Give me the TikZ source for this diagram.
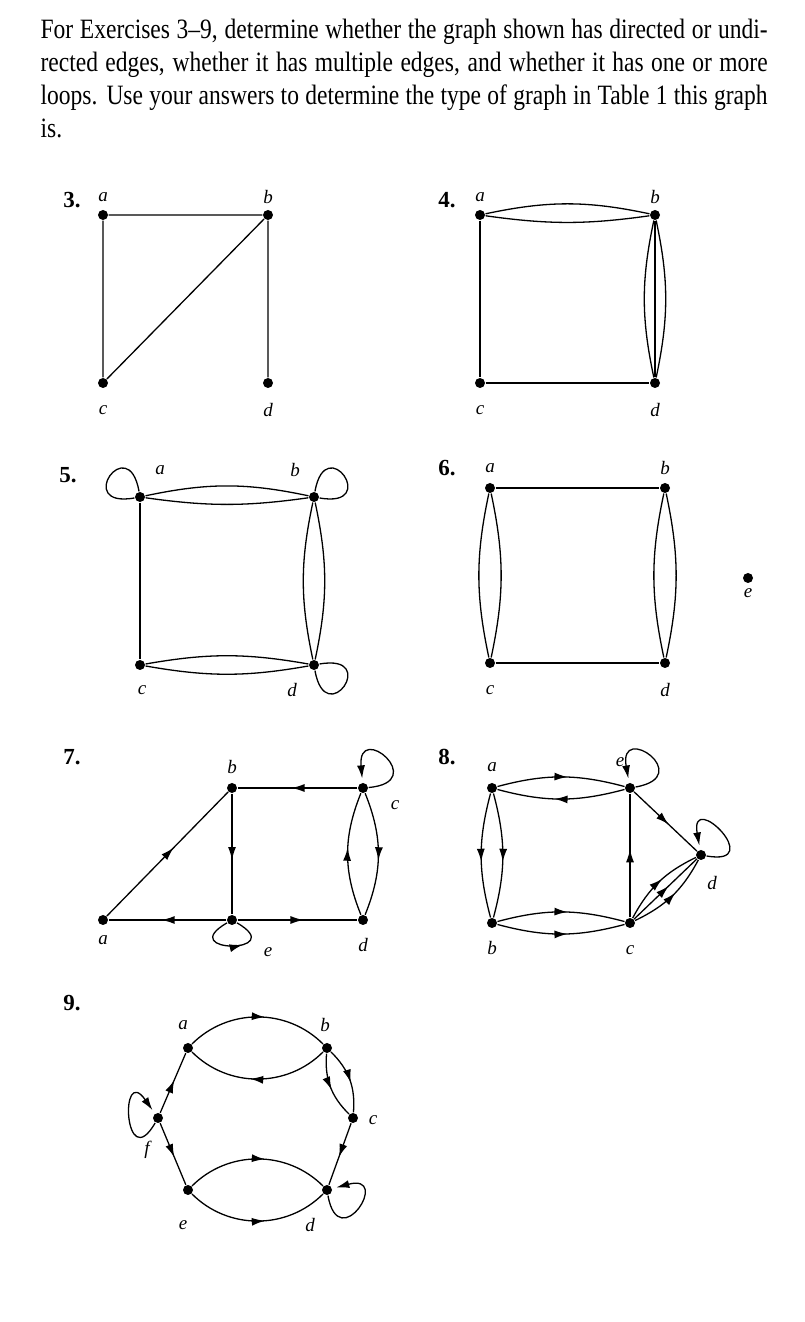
\documentclass[tikz,border=0pt]{standalone}
\usepackage{fontspec}
\setmainfont[FakeStretch=0.84]{Liberation Serif}
\newfontfamily\labfont{Liberation Serif}
\usetikzlibrary{arrows.meta,decorations.markings}
\tikzset{
  dot/.style={circle,fill,inner sep=0,minimum size=10pt},
  lab/.style={font=\labfont\fontsize{19}{20}\selectfont\itshape},
  num/.style={font=\labfont\fontsize{23}{24}\selectfont\bfseries},
  mid/.style={postaction={decorate,decoration={markings,mark=at position #1 with {\arrow{Latex[length=13pt,width=8pt]}}}}},
  mid/.default=0.55,
  lp/.style={distance=62pt},
  ltip/.style={-{Latex[length=13pt,width=8pt]},shorten >=4pt}
}
\begin{document}
\begin{tikzpicture}[x=1pt,y=1pt,line width=1.3pt]
\useasboundingbox (0,0) rectangle (804,1322);
\node[anchor=north west,text width=727pt,align=justify,inner sep=0,font=\fontsize{28}{33}\selectfont] (txt) at (40,1304)
{For Exercises 3--9, determine whether the graph shown has directed or undirected edges, whether it has multiple edges, and whether it has one or more loops. Use your answers to determine the type of graph in Table 1 this graph is.};
% Graph 3
\node[num] (n3) at (72,1122) {3.};
\node[dot] (a3) at (103,1107) {};
\node[dot] (b3) at (268,1107) {};
\node[dot] (c3) at (103,939) {};
\node[dot] (d3) at (268,939) {};
\node[lab] (la3) at (103,1125) {a};
\node[lab] (lb3) at (268,1125) {b};
\node[lab] (lc3) at (103,912) {c};
\node[lab] (ld3) at (268,912) {d};
\draw (a3)--(b3) (a3)--(c3) (b3)--(c3) (b3)--(d3);
% Graph 4
\node[num] (n4) at (447,1122) {4.};
\node[dot] (a4) at (480,1107) {};
\node[dot] (b4) at (655,1107) {};
\node[dot] (c4) at (480,939) {};
\node[dot] (d4) at (655,939) {};
\node[lab] (la4) at (480,1125) {a};
\node[lab] (lb4) at (655,1125) {b};
\node[lab] (lc4) at (480,912) {c};
\node[lab] (ld4) at (655,912) {d};
\draw (a4) to[bend left=12] (b4);
\draw (a4) to[bend right=8] (b4);
\draw (a4)--(c4) (c4)--(d4) (b4)--(d4);
\draw (b4) to[bend left=12] (d4);
\draw (b4) to[bend right=12] (d4);
% Graph 5
\node[num] (n5) at (68,847) {5.};
\node[dot] (a5) at (140,825) {};
\node[dot] (b5) at (314,825) {};
\node[dot] (c5) at (140,657) {};
\node[dot] (d5) at (314,657) {};
\node[lab] (la5) at (160,852) {a};
\node[lab] (lb5) at (295,852) {b};
\node[lab] (lc5) at (142,632) {c};
\node[lab] (ld5) at (292,632) {d};
\draw (a5) to[bend left=12] (b5);
\draw (a5) to[bend right=8] (b5);
\draw (c5) to[bend left=10] (d5);
\draw (c5) to[bend right=10] (d5);
\draw (b5) to[bend left=12] (d5);
\draw (b5) to[bend right=12] (d5);
\draw (a5)--(c5);
\draw (a5) to[out=190,in=100,lp] (a5);
\draw (b5) to[out=80,in=-10,lp] (b5);
\draw (d5) to[out=-80,in=10,lp] (d5);
% Graph 6
\node[num] (n6) at (447,854) {6.};
\node[dot] (a6) at (490,834) {};
\node[dot] (b6) at (665,834) {};
\node[dot] (c6) at (490,659) {};
\node[dot] (d6) at (665,659) {};
\node[dot] (e6) at (748,744) {};
\node[lab] (la6) at (490,854) {a};
\node[lab] (lb6) at (665,854) {b};
\node[lab] (lc6) at (490,632) {c};
\node[lab] (ld6) at (665,632) {d};
\node[lab] (le6) at (748,729) {e};
\draw (a6)--(b6) (c6)--(d6);
\draw (a6) to[bend left=12] (c6);
\draw (a6) to[bend right=12] (c6);
\draw (b6) to[bend left=12] (d6);
\draw (b6) to[bend right=12] (d6);
% Graph 7
\node[num] (n7) at (72,565) {7.};
\node[dot] (a7) at (103,402) {};
\node[dot] (b7) at (232,534) {};
\node[dot] (c7) at (363,534) {};
\node[dot] (d7) at (363,402) {};
\node[dot] (e7) at (232,402) {};
\node[lab] (la7) at (103,382) {a};
\node[lab] (lb7) at (232,555) {b};
\node[lab] (lc7) at (395,517) {c};
\node[lab] (ld7) at (363,377) {d};
\node[lab] (le7) at (268,370) {e};
\draw[mid] (a7)--(b7);
\draw[mid] (c7)--(b7);
\draw[mid] (b7)--(e7);
\draw[mid] (e7)--(a7);
\draw[mid] (e7)--(d7);
\draw[mid] (c7) to[bend left=22] (d7);
\draw[mid] (d7) to[bend left=22] (c7);
\draw[ltip] (c7) to[out=5,in=95,lp] (c7);
\draw[mid=0.62] (e7) to[out=-150,in=-30,lp] (e7);
% Graph 8
\node[num] (n8) at (447,565) {8.};
\node[dot] (a8) at (492,534) {};
\node[dot] (e8) at (630,534) {};
\node[dot] (d8) at (701,467) {};
\node[dot] (b8) at (492,399) {};
\node[dot] (c8) at (630,399) {};
\node[lab] (la8) at (492,555) {a};
\node[lab] (le8) at (620,560) {e};
\node[lab] (ld8) at (712,439) {d};
\node[lab] (lb8) at (492,374) {b};
\node[lab] (lc8) at (630,372) {c};
\draw[mid] (a8) to[bend left=15] (e8);
\draw[mid] (e8) to[bend left=15] (a8);
\draw[mid] (a8) to[bend left=15] (b8);
\draw[mid] (a8) to[bend right=15] (b8);
\draw[mid] (b8) to[bend left=15] (c8);
\draw[mid] (b8) to[bend right=15] (c8);
\draw[mid] (c8)--(e8);
\draw[mid] (e8)--(d8);
\draw[mid] (c8)--(d8);
\draw[mid] (c8) to[bend left=18] (d8);
\draw[mid] (c8) to[bend right=18] (d8);
\draw[ltip] (e8) to[out=10,in=100,lp] (e8);
\draw[ltip] (d8) to[out=-10,in=100,lp] (d8);
% Graph 9
\node[num] (n9) at (72,319) {9.};
\node[dot] (a9) at (188,274) {};
\node[dot] (b9) at (327,274) {};
\node[dot] (c9) at (353,204) {};
\node[dot] (f9) at (158,204) {};
\node[dot] (e9) at (188,132) {};
\node[dot] (d9) at (327,132) {};
\node[lab] (la9) at (183,297) {a};
\node[lab] (lb9) at (325,297) {b};
\node[lab] (lc9) at (373,202) {c};
\node[lab] (lf9) at (147,172) {f};
\node[lab] (le9) at (183,97) {e};
\node[lab] (ld9) at (310,97) {d};
\draw[mid] (a9) to[bend left=45] (b9);
\draw[mid] (b9) to[bend left=45] (a9);
\draw[mid] (b9) to[bend left=25] (c9);
\draw[mid] (b9) to[bend right=25] (c9);
\draw[mid] (c9)--(d9);
\draw[mid] (f9)--(a9);
\draw[mid] (f9)--(e9);
\draw[mid] (e9) to[bend left=45] (d9);
\draw[mid] (e9) to[bend right=45] (d9);
\draw[ltip] (f9) to[out=-120,in=125,lp] (f9);
\draw[ltip] (d9) to[out=-80,in=15,lp] (d9);
\end{tikzpicture}
\end{document}
